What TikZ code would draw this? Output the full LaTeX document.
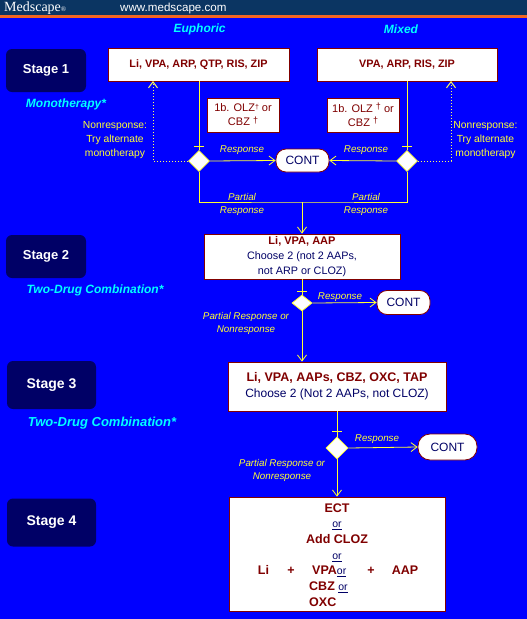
\documentclass[tikz,border=0pt]{standalone}
\usepackage{fontspec}
\setmainfont{Liberation Sans}
\newfontfamily\medfont{Liberation Serif}
\usepackage{tikz}
\usetikzlibrary{positioning, shapes.geometric, arrows.meta}
\definecolor{bgblue}{HTML}{0000FF}
\definecolor{barnavy}{HTML}{0B3562}
\definecolor{barorange}{HTML}{F26522}
\definecolor{stagenavy}{HTML}{000066}
\definecolor{drugred}{HTML}{800000}
\definecolor{textnavy}{HTML}{000066}
\definecolor{flowyellow}{HTML}{FFFF33}
\definecolor{labelcyan}{HTML}{00FFFF}
\newcommand{\fs}[2]{\fontsize{#1}{#2}\selectfont}
\newcommand{\orw}{{\mdseries\fs{10.5}{12}\color{textnavy}\underline{or}}}
\newcommand{\dg}{\raisebox{0.45ex}{\fs{9}{9}†}}

\begin{document}
\begin{tikzpicture}[x=1pt, y=-1pt,
  stagebox/.style={rounded corners=6pt, fill=stagenavy, text=white, font=\bfseries\fs{13}{15}, minimum width=80pt, minimum height=43pt},
  stagelabel/.style={text=labelcyan, font=\bfseries\itshape\fs{12}{14}, inner sep=0pt},
  drugbox/.style={draw=drugred, line width=0.8pt, fill=white, align=center, text=drugred, inner sep=0pt},
  notebox/.style={draw=drugred, line width=0.8pt, fill=white, align=center, text=drugred, font=\fs{11}{14}, minimum width=72pt, minimum height=34pt, inner sep=0pt},
  contnode/.style={draw=drugred, line width=0.8pt, fill=white, text=textnavy, rounded corners=10pt, font=\fs{12}{14}, inner sep=0pt},
  decision/.style={diamond, draw=flowyellow, fill=white, line width=0.8pt, minimum width=21pt, minimum height=21pt, inner sep=0pt},
  flow/.style={draw=flowyellow, line width=0.8pt},
  flowarrow/.style={flow, -{Straight Barb[length=6pt, width=9pt]}},
  dotarrow/.style={draw=flowyellow!80!white, line width=1pt, dotted, -{Straight Barb[length=6pt, width=9pt]}},
  flowlabel/.style={text=flowyellow, font=\itshape\fs{9.8}{13}, align=center, inner sep=0pt},
  nrlabel/.style={text=flowyellow, font=\fs{10.3}{14}, align=center, inner sep=0pt},
  s4text/.style={text=drugred, font=\bfseries\fs{12.5}{15}, inner sep=0pt},
]
\fill[bgblue] (0,0) rectangle (527,619);
\fill[barnavy] (0,0) rectangle (527,15);
\fill[barorange] (0,15) rectangle (527,17.5);
\node[text=white, font=\medfont\fs{14}{14}, anchor=west, inner sep=0pt] (logo) at (4,8) {Medscape{\fs{7}{7}®}};
\node[text=white, font=\fs{11.6}{13}, anchor=west, inner sep=0pt] (site) at (120,8) {www.medscape.com};

\node[stagelabel] (euph) at (199.5,29) {Euphoric};
\node[stagelabel] (mixd) at (401,29) {Mixed};

\node[stagebox] (st1) at (46,70.5) {Stage 1};
\node[stagebox] (st2) at (46,256.5) {Stage 2};
\node[stagebox, minimum width=89pt, minimum height=48pt, font=\bfseries\fs{14}{16}] (st3) at (51.5,385) {Stage 3};
\node[stagebox, minimum width=89pt, minimum height=48pt, font=\bfseries\fs{14}{16}] (st4) at (51.5,522.5) {Stage 4};

\node[stagelabel] (mono) at (66,104) {Monotherapy*};
\node[stagelabel] (comb2) at (95,290) {Two-Drug Combination*};
\node[stagelabel, font=\bfseries\itshape\fs{13}{15}] (comb3) at (102,423) {Two-Drug Combination*};

% stage 1
\node[drugbox, minimum width=181pt, minimum height=33pt, font=\bfseries\fs{10.8}{12}] (e1) at (198.5,64.5) {Li, VPA, ARP, QTP, RIS, ZIP};
\node[drugbox, minimum width=180pt, minimum height=33pt, font=\bfseries\fs{10.8}{12}] (m1) at (407,64.5) {VPA, ARP, RIS, ZIP};
\node[notebox] (n1) at (243,115) {1b. OLZ{\fs{7}{7}\raisebox{0.6ex}{†}} or\\CBZ \dg};
\node[notebox] (n2) at (363,115) {1b. OLZ \dg\ or\\CBZ \dg};
\node[decision] (d1) at (199,161) {};
\node[decision] (d2) at (407,161) {};
\node[contnode, minimum width=53pt, minimum height=23pt] (c1) at (302.5,160.5) {CONT};
\coordinate (tk1) at (199,146);
\coordinate (tk2) at (407,146);
\coordinate (nr1) at (153,81);
\coordinate (nr2) at (451,81);
\coordinate (pj) at (302,202);

\draw[flow] (e1.south -| d1) -- (d1.north);
\draw[flow] (m1.south -| d2) -- (d2.north);
\draw[flowarrow] (d1.east) -- (c1.west);
\draw[flowarrow] (d2.west) -- (c1.east);
\draw[dotarrow] (d1.west) -| (nr1);
\draw[dotarrow] (d2.east) -| (nr2);
\draw[flow] (d1.south) |- (pj) -| (d2.south);

\node[flowlabel] (r1) at (242,150) {Response};
\node[flowlabel] (r2) at (366,150) {Response};
\node[flowlabel] (p1) at (242,204) {Partial\\Response};
\node[flowlabel] (p2) at (366,204) {Partial\\Response};
\node[nrlabel] (nrl) at (115,140) {Nonresponse:\\Try alternate\\monotherapy};
\node[nrlabel] (nrr) at (485.5,140) {Nonresponse:\\Try alternate\\monotherapy};

% stage 2
\node[drugbox, minimum width=196pt, minimum height=45pt, text=textnavy, font=\fs{10.8}{15}] (s2) at (302,256.5)
  {{\bfseries\color{drugred}\fs{11}{15}Li, VPA, AAP}\\Choose 2 (not 2 AAPs,\\not ARP or CLOZ)};
\draw[flowarrow] (pj) -- (s2.north);
\node[decision, minimum width=20pt, minimum height=16pt] (d3) at (302,303) {};
\node[contnode, minimum width=53pt, minimum height=24pt] (c2) at (403.5,302.5) {CONT};
\coordinate (tk3) at (302,291);
\draw[flow] (s2.south) -- (d3.north);
\draw[flowarrow] (d3.east) -- (c2.west);
\node[flowlabel] (r3) at (340,297.5) {Response};
\node[flowlabel] (p3) at (246,323.5) {Partial Response or\\Nonresponse};

% stage 3
\node[drugbox, minimum width=218pt, minimum height=49pt, text=textnavy, font=\fs{12}{16}] (s3) at (337,386.5)
  {{\bfseries\color{drugred}\fs{12.5}{16}Li, VPA, AAPs, CBZ, OXC, TAP}\\Choose 2 (Not 2 AAPs, not CLOZ)};
\draw[flowarrow] (d3.south) -- (d3.south |- s3.north);
\node[decision, minimum width=22pt, minimum height=22pt] (d4) at (337,448) {};
\node[contnode, minimum width=59pt, minimum height=26pt, rounded corners=12pt] (c3) at (447.5,447) {CONT};
\coordinate (tk4) at (337,431);
\draw[flow] (s3.south -| d4) -- (d4.north);
\draw[flowarrow] (d4.east) -- (c3.west);
\node[flowlabel] (r4) at (377,439) {Response};
\node[flowlabel] (p4) at (282,470) {Partial Response or\\Nonresponse};

% stage 4
\node[drugbox, minimum width=216pt, minimum height=114pt] (s4) at (337,554) {};
\draw[flowarrow] (d4.south) -- (d4.south |- s4.north);
\node[s4text, anchor=base] (ect) at (337,512.5) {ECT};
\node[inner sep=0pt, anchor=base] (or1) at (337,527.5) {\orw};
\node[s4text, anchor=base] (cloz) at (337,543.5) {Add CLOZ};
\node[inner sep=0pt, anchor=base] (or2) at (337,559.5) {\orw};
\node[s4text, anchor=base] (li) at (263.5,574.5) {Li};
\node[s4text, anchor=base] (pl1) at (291,574.5) {+};
\node[s4text, anchor=base west] (vpa) at (312,574.5) {VPA\orw};
\node[s4text, anchor=base] (pl2) at (371,574.5) {+};
\node[s4text, anchor=base] (aap) at (405,574.5) {AAP};
\node[s4text, anchor=base west] (cbz) at (309,590.5) {CBZ \orw};
\node[s4text, anchor=base west] (oxc) at (309,606) {OXC};

\foreach \t in {tk1,tk2,tk3,tk4}
  \draw[flow] ([xshift=-5pt]\t) -- ([xshift=5pt]\t);
\end{tikzpicture}
\end{document}
